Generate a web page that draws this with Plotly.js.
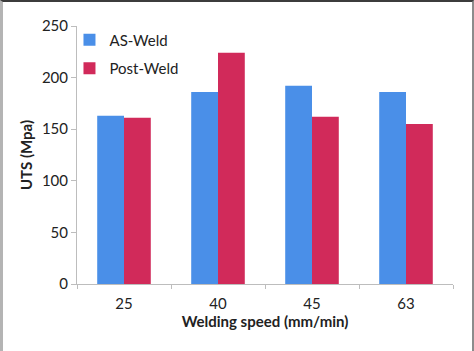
<!DOCTYPE html>
<html>
<head>
<meta charset="utf-8">
<script src="https://cdn.plot.ly/plotly-3.0.1.min.js"></script>
<style>
  html, body { margin: 0; padding: 0; background: #ffffff; }
  #frame { width: 469px; height: 349px; border-top: 2px solid #3c3c3c; border-left: 3px solid #b4b4b4; border-right: 2px solid #8c8c8c; background: #fff; }
  #chart { width: 469px; height: 349px; }
</style>
</head>
<body>
<div id="frame"><div id="chart"></div></div>
<script>
const categories = ["25", "40", "45", "63"];
const asWeld = [163, 186, 192, 186];
const postWeld = [161, 224, 162, 155];
const seriesNames = ["AS-Weld", "Post-Weld"];
const yTicks = [0, 50, 100, 150, 200, 250];

const fontFam = "Lato, 'Open Sans', Arial, sans-serif";

const data = [
  { type: "bar", name: seriesNames[0], x: categories, y: asWeld, marker: { color: "#4a8fe8" }, legendgroup: "a", hoverinfo: "y" },
  { type: "bar", name: seriesNames[1], x: categories, y: postWeld, marker: { color: "#d12a5a" }, legendgroup: "b", hoverinfo: "y" }
];

const layout = {
  width: 469, height: 349,
  margin: { l: 74, r: 19, t: 24, b: 67 },
  paper_bgcolor: "#ffffff", plot_bgcolor: "#ffffff",
  font: { family: fontFam, size: 15, color: "#222" },
  barmode: "group", bargap: 0.43, bargroupgap: 0,
  showlegend: true,
  legend: { x: -0.02, y: 1.01, xanchor: "left", yanchor: "top", bgcolor: "rgba(0,0,0,0)", font: { size: 15, color: "#222" }, traceorder: "grouped", tracegroupgap: 6, itemwidth: 30 },
  xaxis: {
    type: "category",
    showline: true, linecolor: "#bdbdbd", linewidth: 1,
    ticks: "outside", tickson: "boundaries", ticklen: 4, tickcolor: "#bdbdbd",
    showgrid: false, zeroline: false,
    ticklabelstandoff: 6,
    tickfont: { size: 15, color: "#222" },
    title: { text: "<b>Welding speed (mm/min)</b>", font: { size: 15, color: "#222" }, standoff: 5 }
  },
  yaxis: {
    range: [0, 250], tickvals: yTicks,
    showline: true, linecolor: "#bdbdbd", linewidth: 1,
    ticks: "outside", ticklen: 5, tickcolor: "#bdbdbd",
    showgrid: false, zeroline: false,
    tickfont: { size: 15, color: "#222" },
    title: { text: "<b>UTS (Mpa)</b>", font: { size: 15, color: "#222" }, standoff: 5 }
  }
};

Plotly.newPlot("chart", data, layout, { displayModeBar: false, staticPlot: true });
</script>
</body>
</html>
